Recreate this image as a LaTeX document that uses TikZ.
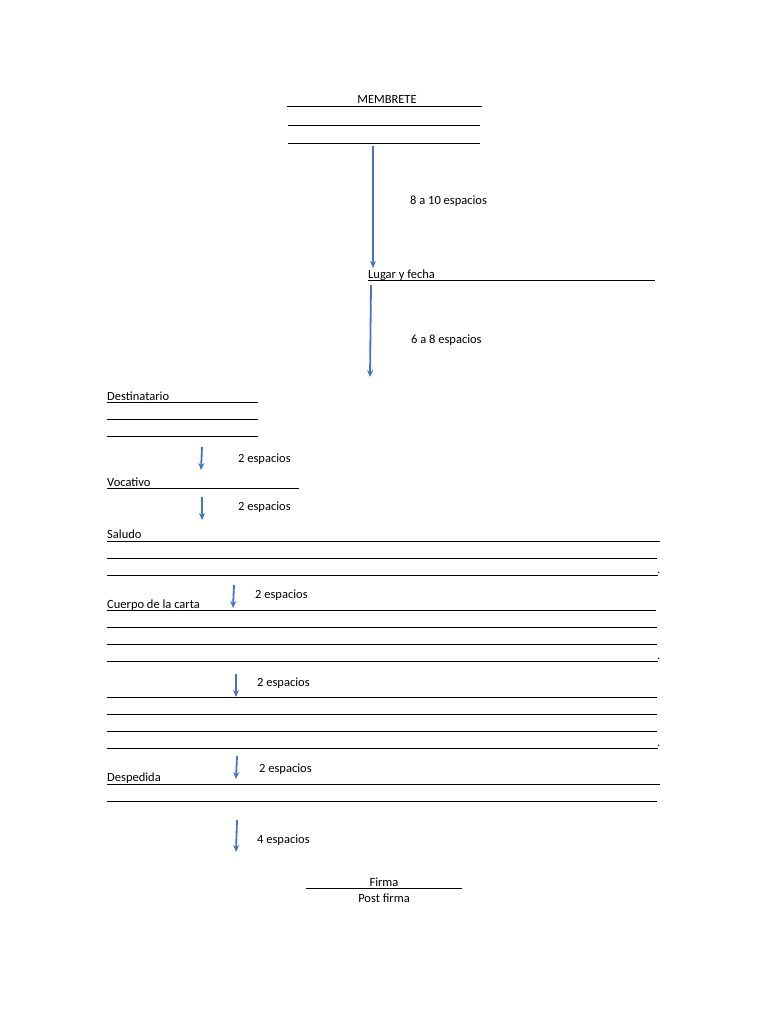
\documentclass[tikz,border=0pt]{standalone}
\usepackage{fontspec}
\setmainfont{Carlito}
\usetikzlibrary{arrows.meta}
\definecolor{arrowblue}{RGB}{68,114,196}
\begin{document}
\begin{tikzpicture}[x=1pt,y=-1pt,
  txt/.style={inner sep=0pt,font=\fontsize{12.5}{14}\selectfont,anchor=base west},
  rule/.style={black,line width=0.7pt},
  gap/.style={arrowblue,line width=1.8pt,-{Stealth[length=7pt,width=6pt]}}]
\useasboundingbox (0,0) rectangle (768,1024);
% encabezado
\node[txt,anchor=base] (membrete) at (387,104) {MEMBRETE};
\draw[rule] (287,106) -- (482,106);
\draw[rule] (288,125) -- (480,125);
\draw[rule] (288,143) -- (480,143);
\coordinate (a1s) at (373,146); \coordinate (a1e) at (373,268);
\draw[gap] (a1s) -- (a1e);
\node[txt] (g1) at (410,205) {8 a 10 espacios};
\node[txt] (lugar) at (368,278) {Lugar y fecha};
\draw[rule] (368,280) -- (655,280);
\coordinate (a2s) at (371,285); \coordinate (a2e) at (370,377);
\draw[gap] (a2s) -- (a2e);
\node[txt] (g2) at (411,343) {6 a 8 espacios};
% destinatario
\node[txt] (dest) at (107,400) {Destinatario};
\draw[rule] (107,402) -- (258,402);
\draw[rule] (107,419) -- (258,419);
\draw[rule] (107,436) -- (258,436);
\coordinate (a3s) at (202,447); \coordinate (a3e) at (201,470);
\draw[gap] (a3s) -- (a3e);
\node[txt] (g3) at (238,462) {2 espacios};
\node[txt] (voc) at (107,486) {Vocativo};
\draw[rule] (107,488) -- (299,488);
\coordinate (a4s) at (202,497); \coordinate (a4e) at (202,520);
\draw[gap] (a4s) -- (a4e);
\node[txt] (g4) at (238,510) {2 espacios};
% saludo
\node[txt] (saludo) at (107,538) {Saludo};
\draw[rule] (107,541) -- (660,541);
\draw[rule] (107,558) -- (657,558);
\draw[rule] (107,575) -- (658,575);
\node[txt] (p1) at (657,573) {.};
\coordinate (a5s) at (234,585); \coordinate (a5e) at (233,608);
\draw[gap] (a5s) -- (a5e);
\node[txt] (g5) at (255,598) {2 espacios};
% cuerpo
\node[txt] (cuerpo) at (107,608) {Cuerpo de la carta};
\foreach \y/\e in {610/656,627/657,644/657,661/658}
  \draw[rule] (107,\y) -- (\e,\y);
\node[txt] (p2) at (657,659) {.};
\coordinate (a6s) at (236,674); \coordinate (a6e) at (236,697);
\draw[gap] (a6s) -- (a6e);
\node[txt] (g6) at (257,686) {2 espacios};
\foreach \y/\e in {697/657,714/657,731/657,748/658}
  \draw[rule] (107,\y) -- (\e,\y);
\node[txt] (p3) at (657,746) {.};
\coordinate (a7s) at (237,756); \coordinate (a7e) at (236,779);
\draw[gap] (a7s) -- (a7e);
\node[txt] (g7) at (259,772) {2 espacios};
% despedida
\node[txt] (desp) at (107,781) {Despedida};
\draw[rule] (107,784) -- (660,784);
\draw[rule] (107,801) -- (657,801);
\coordinate (a8s) at (237,820); \coordinate (a8e) at (236,852);
\draw[gap] (a8s) -- (a8e);
\node[txt] (g8) at (257,843) {4 espacios};
% firma
\node[txt,anchor=base] (firma) at (384,886) {Firma};
\draw[rule] (306,888) -- (462,888);
\node[txt,anchor=base] (post) at (384,902) {Post firma};
\end{tikzpicture}
\end{document}
